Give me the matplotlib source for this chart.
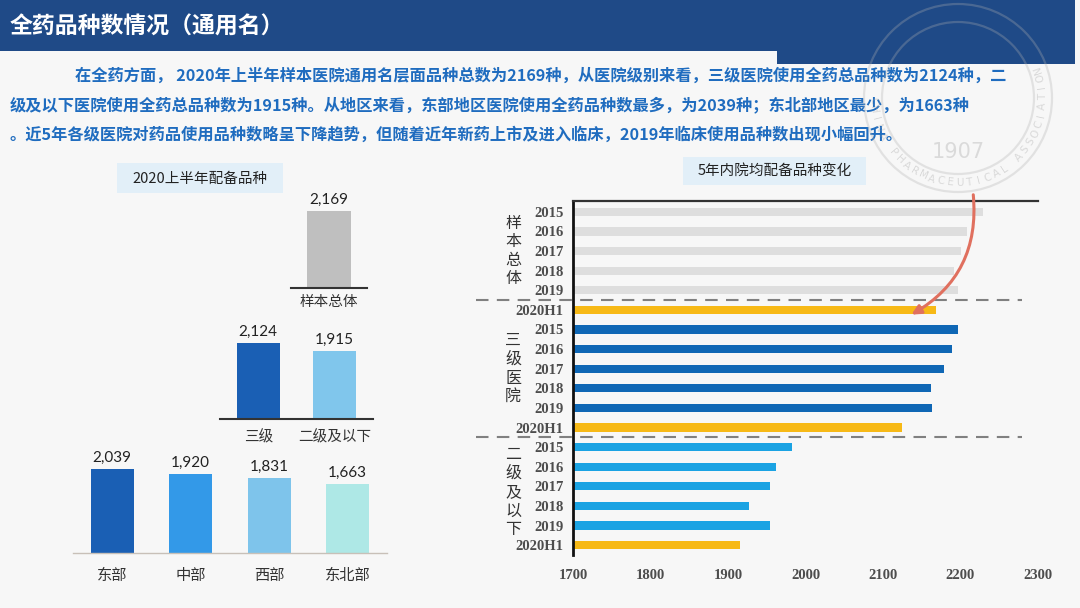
import numpy as np
import matplotlib.pyplot as plt
from matplotlib.patches import Rectangle, Circle, FancyArrowPatch
import matplotlib.transforms as mtransforms

plt.rcParams['font.family'] = ['Noto Sans CJK SC', 'DejaVu Sans']

W, H = 1080, 608

# --- data ---
total_cat = ['样本总体']
total_val = [2169]
level_cats = ['三级', '二级及以下']
level_vals = [2124, 1915]
region_cats = ['东部', '中部', '西部', '东北部']
region_vals = [2039, 1920, 1831, 1663]

years = ['2015', '2016', '2017', '2018', '2019', '2020H1']
trend_total = [2229, 2209, 2200, 2191, 2197, 2169]
trend_tertiary = [2197, 2189, 2179, 2162, 2163, 2124]
trend_secondary = [1983, 1962, 1954, 1927, 1954, 1915]
group_names = ['样本总体', '三级医院', '二级及以下']
x_ticks = [1700, 1800, 1900, 2000, 2100, 2200, 2300]

title = '全药品种数情况（通用名）'
para = [
    '在全药方面， 2020年上半年样本医院通用名层面品种总数为2169种，从医院级别来看，三级医院使用全药总品种数为2124种，二',
    '级及以下医院使用全药总品种数为1915种。从地区来看，东部地区医院使用全药品种数最多，为2039种；东北部地区最少，为1663种',
    '。近5年各级医院对药品使用品种数略呈下降趋势，但随着近年新药上市及进入临床，2019年临床使用品种数出现小幅回升。',
]

BLUE_BAND = '#1f4a87'
DARK = '#1a5fb4'
GOLD = '#f7b916'

fig = plt.figure(figsize=(W / 100, H / 100), dpi=100)
fig.patch.set_facecolor('#f7f7f7')


def px_axes(x0, y0, x1, y1, z=1):
    return fig.add_axes([x0 / W, 1 - y1 / H, (x1 - x0) / W, (y1 - y0) / H], zorder=z)


# --- page layer ---
page = px_axes(0, 0, W, H, z=0)
page.set_xlim(0, W)
page.set_ylim(H, 0)
page.axis('off')

page.add_patch(Rectangle((0, 0), 1075, 51, color=BLUE_BAND, lw=0))
page.add_patch(Rectangle((777, 0), 298, 64, color=BLUE_BAND, lw=0))
page.text(10, 27, title, color='white', fontsize=16.5, fontweight='bold', va='center')

para_x = [75, 10, 10]
para_y = [76, 105, 134]
for s, x, y in zip(para, para_x, para_y):
    page.text(x, y, s, color='#1f6cbf', fontsize=11.7, fontweight='bold', va='center')

# chart caption boxes
page.add_patch(Rectangle((117, 163), 166, 30, color='#e2eff8', lw=0))
page.text(200, 179, '2020上半年配备品种', fontsize=10.5, color='#222222', ha='center', va='center')
page.add_patch(Rectangle((683, 157), 183, 28, color='#e2eff8', lw=0))
page.text(775, 171, '5年内院均配备品种变化', fontsize=10.5, color='#222222', ha='center', va='center')

# --- watermark seal ---
wm = px_axes(0, 0, W, H, z=20)
wm.set_xlim(0, W)
wm.set_ylim(H, 0)
wm.axis('off')
cx, cy = 958, 98
for r in (94, 76):
    wm.add_patch(Circle((cx, cy), r, fill=False, ec='#b0b0b0', lw=1.6, alpha=0.3))
seal_txt = 'CHINA PHARMACEUTICAL ASSOCIATION'
step = 6.4
th0 = 20 - step * (len(seal_txt) - 1)
for k, ch in enumerate(seal_txt):
    th = np.deg2rad(th0 + step * k)
    wm.text(cx + 85 * np.cos(th), cy - 85 * np.sin(th), ch, fontsize=7.5, color='#a0a0a0',
            alpha=0.35, rotation=np.rad2deg(th) + 90, ha='center', va='center',
            family=['DejaVu Sans'])
wm.text(cx, 152, '1907', fontsize=15, color='#b0b0b0', alpha=0.4, ha='center', va='center',
        family=['DejaVu Sans'])

# arrow
arrow = FancyArrowPatch((973, 192), (909, 316), connectionstyle='arc3,rad=-0.33',
                        arrowstyle='-|>', mutation_scale=14, color='#e0705f', lw=2.2)
wm.add_patch(arrow)


def style_small(ax, line_color, lw):
    for sp in ('top', 'right', 'left'):
        ax.spines[sp].set_visible(False)
    ax.spines['bottom'].set_color(line_color)
    ax.spines['bottom'].set_linewidth(lw)
    ax.set_yticks([])
    ax.tick_params(axis='x', length=0, labelsize=10.5, labelcolor='#333333')
    ax.patch.set_alpha(0)


# --- left: sample total ---
ax1 = px_axes(291, 288 - 2400 * 0.0356, 367, 288)
ax1.bar(total_cat, total_val, width=1.0, color='#bfbfbf')
ax1.set_xlim(-0.865, 0.865)
ax1.set_ylim(0, 2400)
style_small(ax1, '#333333', 1.5)
ax1.tick_params(axis='x', pad=5)
ax1.bar_label(ax1.containers[0], labels=[f'{v:,}' for v in total_val], padding=3,
              fontsize=11, color='#222222', family=['Lato', 'DejaVu Sans'])

# --- left: hospital levels ---
ax2 = px_axes(220, 419 - 2400 * 0.0356, 373, 419)
ax2.bar(level_cats, level_vals, width=0.56, color=[DARK, '#80c6ec'])
ax2.set_xlim(-0.5, 1.5)
ax2.set_ylim(0, 2400)
style_small(ax2, '#333333', 1.5)
ax2.tick_params(axis='x', pad=8)
ax2.bar_label(ax2.containers[0], labels=[f'{v:,}' for v in level_vals], padding=3,
              fontsize=11, color='#222222', family=['Lato', 'DejaVu Sans'])

# --- left: regions ---
ax3 = px_axes(73, 553 - 2400 * 0.0412, 387, 553)
ax3.bar(region_cats, region_vals, width=0.55,
        color=[DARK, '#3399e8', '#7ec4eb', '#aee8e6'])
ax3.set_xlim(-0.5, 3.5)
ax3.set_ylim(0, 2400)
style_small(ax3, '#c8c0b8', 1.0)
ax3.tick_params(axis='x', pad=10, labelsize=11)
ax3.bar_label(ax3.containers[0], labels=[f'{v:,}' for v in region_vals], padding=3,
              fontsize=11, color='#222222', family=['Lato', 'DejaVu Sans'])

# --- right: 5-year trend ---
ax4 = px_axes(573, 201, 1038, 555, z=2)
ax4.patch.set_alpha(0)
series = [trend_total, trend_tertiary, trend_secondary]
base_colors = ['#dedede', '#0f67b5', '#1ba3e3']
labels = []
vals = []
cols = []
for s, c in zip(series, base_colors):
    for yr, v in zip(years, s):
        labels.append(yr)
        vals.append(v)
        cols.append(GOLD if yr == '2020H1' else c)
rows = np.arange(len(vals))
ax4.barh(rows, np.array(vals) - 1700, left=1700, height=0.42, color=cols)
ax4.set_xlim(1700, 2300)
ax4.set_ylim(17.5, -0.55)
ax4.set_yticks(rows)
ax4.set_yticklabels(labels)
ax4.set_xticks(x_ticks)
for lab in ax4.get_xticklabels() + ax4.get_yticklabels():
    lab.set_family(['Liberation Serif'])
    lab.set_fontweight('bold')
ax4.tick_params(axis='both', length=0, labelsize=10.5, labelcolor='#4d4d4d')
ax4.tick_params(axis='y', pad=7)
ax4.tick_params(axis='x', pad=10)
ax4.spines['right'].set_visible(False)
ax4.spines['bottom'].set_visible(False)
ax4.spines['top'].set_color('#333333')
ax4.spines['top'].set_linewidth(1.6)
ax4.spines['left'].set_color('#111111')
ax4.spines['left'].set_linewidth(2)

x0f, x1f = (476 - 573) / 465, (1022 - 573) / 465
for yb in (4.5, 11.5):
    ax4.axhline(yb, xmin=x0f, xmax=x1f, color='#808080', lw=1.5, ls=(0, (6, 4)),
                clip_on=False)

trans = mtransforms.blended_transform_factory(ax4.transAxes, ax4.transData)
for name, center in zip(group_names, [2.0, 8.0, 14.3]):
    n = len(name)
    for k, ch in enumerate(name):
        ax4.text(-0.129, center + (k - (n - 1) / 2) * 0.95, ch, transform=trans,
                 fontsize=11.5, color='#333333', ha='center', va='center')

fig.savefig('out.png', dpi=100, facecolor=fig.get_facecolor())
